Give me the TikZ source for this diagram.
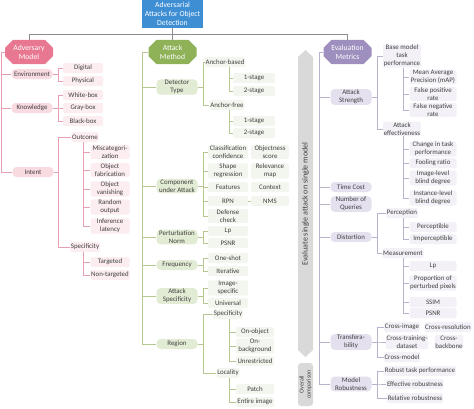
\documentclass[tikz,border=0pt]{standalone}
\usepackage{fontspec}
\setmainfont{Carlito}
\usetikzlibrary{shapes.misc}

\definecolor{titleblue}{RGB}{62,142,212}
\definecolor{advmain}{RGB}{232,120,146}
\definecolor{advsub}{RGB}{248,218,225}
\definecolor{advleaf}{RGB}{252,237,240}
\definecolor{advline}{RGB}{230,160,178}
\definecolor{atkmain}{RGB}{143,178,88}
\definecolor{atksub}{RGB}{226,235,211}
\definecolor{atkleaf}{RGB}{243,246,238}
\definecolor{atkline}{RGB}{182,200,146}
\definecolor{evamain}{RGB}{158,143,190}
\definecolor{evasub}{RGB}{229,224,238}
\definecolor{evaleaf}{RGB}{243,241,247}
\definecolor{evaline}{RGB}{186,178,205}
\definecolor{arrowgray}{RGB}{217,217,217}
\definecolor{textgray}{RGB}{64,64,64}

\tikzset{
  basefont/.style={font=\fontsize{6.9}{7.9}\selectfont},
  root/.style={rectangle, fill=titleblue, text=white, font=\fontsize{7.7}{9}\selectfont, align=center, minimum width=61pt, minimum height=28pt, inner sep=1pt},
  head/.style={chamfered rectangle, chamfered rectangle sep=4pt, text=white, font=\fontsize{7.7}{9}\selectfont, align=center, minimum width=48pt, minimum height=20pt, inner sep=1pt},
  cat/.style={rectangle, rounded corners=4pt, basefont, text=textgray, align=center, minimum width=41pt, minimum height=10pt, inner sep=1pt},
  leaf/.style={rectangle, rounded corners=1.5pt, basefont, text=textgray, align=center, minimum height=10pt, inner sep=0.8pt},
  link/.style={line width=0.6pt},
}

\begin{document}
\begin{tikzpicture}[x=1pt, y=-1pt]
\useasboundingbox (0,0) rectangle (474,408);

% root and main branches
\node[root] (ttl) at (172.5,14) {Adversarial\\Attacks for Object\\Detection};
\node[head, fill=advmain] (adv) at (29,52) {Adversary\\Model};
\node[head, fill=atkmain] (atk) at (172.5,52) {Attack\\Method};
\node[head, fill=evamain] (eva) at (347.5,52) {Evaluation\\Metrics};

\coordinate (bar) at (0,34);
\draw[link, black!45] (ttl.south) -- (atk.north);
\draw[link, black!45] (adv.north) |- (bar -| eva.north) -- (eva.north);

% evaluation arrow
\fill[arrowgray] (298,57) -- (305.5,50) -- (313,57) -- (313,350) -- (305.5,357) -- (298,350) -- cycle;
\node[rotate=90, font=\fontsize{8}{9}\selectfont, text=textgray] (evs) at (305.5,204) {Evaluate single attack on single model};
\node[rectangle, rounded corners=3pt, fill=arrowgray, rotate=90, minimum width=43pt, minimum height=15pt, inner sep=0pt, align=center, font=\fontsize{6}{6.8}\selectfont, text=textgray] (ovc) at (305.5,384.5) {Overall\\comparison};

% adversary model
\node[cat, fill=advsub] (env) at (32,74) {Environment};
\node[cat, fill=advsub] (kno) at (32,108) {Knowledge};
\node[cat, fill=advsub] (int) at (33,172) {Intent};

\node[leaf, fill=advleaf, minimum width=40pt] (dig) at (83,68) {Digital};
\node[leaf, fill=advleaf, minimum width=40pt] (phy) at (83,81) {Physical};
\node[leaf, fill=advleaf, minimum width=40pt] (wbx) at (83,95) {White-box};
\node[leaf, fill=advleaf, minimum width=40pt] (gbx) at (83,108) {Gray-box};
\node[leaf, fill=advleaf, minimum width=40pt] (bbx) at (83,121) {Black-box};
\node[leaf, fill=advleaf] (out) at (85,137) {Outcome};
\node[leaf, fill=advleaf] (spc) at (85,247) {Specificity};
\node[leaf, fill=advleaf, minimum width=39pt] (mis) at (110,152) {Miscategori-\\zation};
\node[leaf, fill=advleaf, minimum width=39pt] (fab) at (110,170) {Object\\fabrication};
\node[leaf, fill=advleaf, minimum width=39pt] (van) at (110,189) {Object\\vanishing};
\node[leaf, fill=advleaf, minimum width=39pt] (rnd) at (110,207) {Random\\output};
\node[leaf, fill=advleaf, minimum width=39pt] (lat) at (110,226) {Inference\\latency};
\node[leaf, fill=advleaf, minimum width=39pt] (tgt) at (110,262) {Targeted};
\node[leaf, fill=advleaf, minimum width=39pt] (ntg) at (110,275) {Non-targeted};

\coordinate (advtrunk) at (1.5,0);
\coordinate (advbr) at (58,0);
\coordinate (advsb) at (83,0);
\foreach \c in {env,kno,int}
  \draw[link, advline] (adv.west) -- (adv.west -| advtrunk) |- (\c.west);
\foreach \p/\c in {env/dig,env/phy,kno/wbx,kno/gbx,kno/bbx,int/out,int/spc}
  \draw[link, advline] (\p.east) -- (\p.east -| advbr) |- (\c.west);
\foreach \p/\c in {out/mis,out/fab,out/van,out/rnd,out/lat,spc/tgt,spc/ntg}
  \draw[link, advline] (\p.south -| advsb) |- (\c.west);

% attack method
\node[cat, fill=atksub] (dty) at (177,87) {Detector\\Type};
\node[cat, fill=atksub] (cua) at (177,186) {Component\\under Attack};
\node[cat, fill=atksub] (pnm) at (177,237) {Perturbation\\Norm};
\node[cat, fill=atksub] (frq) at (177,265) {Frequency};
\node[cat, fill=atksub] (asp) at (177,296) {Attack\\Specificity};
\node[cat, fill=atksub] (reg) at (177,344) {Region};

\node[leaf, fill=atkleaf] (abs) at (225,62) {Anchor-based};
\node[leaf, fill=atkleaf] (afr) at (227,105) {Anchor-free};
\node[leaf, fill=atkleaf, minimum width=42pt] (ab1) at (254,78) {1-stage};
\node[leaf, fill=atkleaf, minimum width=42pt] (ab2) at (254,91) {2-stage};
\node[leaf, fill=atkleaf, minimum width=42pt] (af1) at (254,121) {1-stage};
\node[leaf, fill=atkleaf, minimum width=42pt] (af2) at (254,133) {2-stage};
\node[leaf, fill=atkleaf, minimum width=40pt] (clc) at (228,152) {Classification\\confidence};
\node[leaf, fill=atkleaf, minimum width=38pt] (obj) at (270,152) {Objectness\\score};
\node[leaf, fill=atkleaf, minimum width=40pt] (shr) at (228,171) {Shape\\regression};
\node[leaf, fill=atkleaf, minimum width=38pt] (rel) at (270,171) {Relevance\\map};
\node[leaf, fill=atkleaf, minimum width=40pt] (fea) at (228,187) {Features};
\node[leaf, fill=atkleaf, minimum width=38pt] (ctx) at (270,187) {Context};
\node[leaf, fill=atkleaf, minimum width=40pt] (rpn) at (228,201) {RPN};
\node[leaf, fill=atkleaf, minimum width=38pt] (nms) at (270,201) {NMS};
\node[leaf, fill=atkleaf, minimum width=40pt] (dfc) at (228,216) {Defense\\check};
\node[leaf, fill=atkleaf, minimum width=40pt] (alp) at (228,231) {Lp};
\node[leaf, fill=atkleaf, minimum width=40pt] (aps) at (228,243) {PSNR};
\node[leaf, fill=atkleaf, minimum width=40pt] (one) at (228,258) {One-shot};
\node[leaf, fill=atkleaf, minimum width=40pt] (itr) at (228,271) {Iterative};
\node[leaf, fill=atkleaf, minimum width=40pt] (isp) at (228,288) {Image-\\specific};
\node[leaf, fill=atkleaf, minimum width=40pt] (uni) at (228,303) {Universal};
\node[leaf, fill=atkleaf] (rsp) at (228,314) {Specificity};
\node[leaf, fill=atkleaf] (loc) at (228,373) {Locality};
\node[leaf, fill=atkleaf, minimum width=38pt] (onb) at (255,332) {On-object};
\node[leaf, fill=atkleaf, minimum width=38pt] (obg) at (255,346) {On-\\background};
\node[leaf, fill=atkleaf, minimum width=38pt] (unr) at (255,361) {Unrestricted};
\node[leaf, fill=atkleaf, minimum width=38pt] (pat) at (255,389) {Patch};
\node[leaf, fill=atkleaf, minimum width=38pt] (ent) at (255,402) {Entire image};

\coordinate (atktrunk) at (142,0);
\coordinate (atkbr) at (203,0);
\coordinate (atksb) at (229,0);
\foreach \c in {dty,cua,pnm,frq,asp,reg}
  \draw[link, atkline] (atk.west) -- (atk.west -| atktrunk) |- (\c.west);
\foreach \p/\c in {dty/abs,dty/afr,cua/clc,cua/shr,cua/fea,cua/rpn,cua/dfc,pnm/alp,pnm/aps,frq/one,frq/itr,asp/isp,asp/uni,reg/rsp,reg/loc}
  \draw[link, atkline] (\p.east) -- (\p.east -| atkbr) |- (\c.west);
\foreach \p/\c in {abs/ab1,abs/ab2,afr/af1,afr/af2,rsp/onb,rsp/obg,rsp/unr,loc/pat,loc/ent}
  \draw[link, atkline] (\p.south -| atksb) |- (\c.west);
\draw[link, atkline] (rpn.east) -- (nms.west);

% evaluation metrics
\node[cat, fill=evasub] (str) at (351,97) {Attack\\Strength};
\node[cat, fill=evasub] (tmc) at (351,187) {Time Cost};
\node[cat, fill=evasub] (nqr) at (351,204) {Number of\\Queries};
\node[cat, fill=evasub] (dst) at (351,237) {Distortion};
\node[cat, fill=evasub] (trf) at (351,342) {Transfera-\\bility};
\node[cat, fill=evasub] (rob) at (351,384) {Model\\Robustness};

\node[leaf, fill=evaleaf] (bmt) at (402,56) {Base model\\task\\performance};
\node[leaf, fill=evaleaf] (aef) at (402,129) {Attack\\effectiveness};
\node[leaf, fill=evaleaf, minimum width=47pt] (map) at (433,77) {Mean Average\\Precision (mAP)};
\node[leaf, fill=evaleaf, minimum width=47pt] (fpr) at (433,94) {False positive\\rate};
\node[leaf, fill=evaleaf, minimum width=47pt] (fnr) at (433,110) {False negative\\rate};
\node[leaf, fill=evaleaf, minimum width=47pt] (cit) at (433,149) {Change in task\\performance};
\node[leaf, fill=evaleaf, minimum width=47pt] (fol) at (433,163) {Fooling ratio};
\node[leaf, fill=evaleaf, minimum width=47pt] (ilb) at (433,178) {Image-level\\blind degree};
\node[leaf, fill=evaleaf, minimum width=47pt] (inb) at (433,198) {Instance-level\\blind degree};
\node[leaf, fill=evaleaf] (pcp) at (402,213) {Perception};
\node[leaf, fill=evaleaf] (mea) at (403,253) {Measurement};
\node[leaf, fill=evaleaf, minimum width=47pt] (pce) at (433,227) {Perceptible};
\node[leaf, fill=evaleaf, minimum width=47pt] (ipc) at (433,239) {Imperceptible};
\node[leaf, fill=evaleaf, minimum width=47pt] (mlp) at (433,266) {Lp};
\node[leaf, fill=evaleaf, minimum width=47pt] (ppp) at (433,283) {Proportion of\\perturbed pixels};
\node[leaf, fill=evaleaf, minimum width=47pt] (ssm) at (433,302) {SSIM};
\node[leaf, fill=evaleaf, minimum width=47pt] (mps) at (433,313) {PSNR};
\node[leaf, fill=evaleaf] (cim) at (402,327) {Cross-image};
\node[leaf, fill=evaleaf] (cre) at (448,327) {Cross-resolution};
\node[leaf, fill=evaleaf] (ctd) at (407,342) {Cross-training-\\dataset};
\node[leaf, fill=evaleaf] (cbb) at (449,342) {Cross-\\backbone};
\node[leaf, fill=evaleaf] (cmo) at (402,357) {Cross-model};
\node[leaf, fill=evaleaf] (rtp) at (420,371) {Robust task performance};
\node[leaf, fill=evaleaf] (efr) at (415,384) {Effective robustness};
\node[leaf, fill=evaleaf] (rer) at (415,398) {Relative robustness};

\coordinate (evatrunk) at (319,0);
\coordinate (evabr) at (377,0);
\coordinate (evasb) at (403,0);
\foreach \c in {str,tmc,nqr,dst,trf,rob}
  \draw[link, evaline] (eva.west) -- (eva.west -| evatrunk) |- (\c.west);
\foreach \p/\c in {str/bmt,str/aef,dst/pcp,dst/mea,trf/cim,trf/ctd,trf/cmo,rob/rtp,rob/efr,rob/rer}
  \draw[link, evaline] (\p.east) -- (\p.east -| evabr) |- (\c.west);
\foreach \p/\c in {bmt/map,bmt/fpr,bmt/fnr,aef/cit,aef/fol,aef/ilb,aef/inb,pcp/pce,pcp/ipc,mea/mlp,mea/ppp,mea/ssm,mea/mps}
  \draw[link, evaline] (\p.south -| evasb) |- (\c.west);
\end{tikzpicture}
\end{document}
